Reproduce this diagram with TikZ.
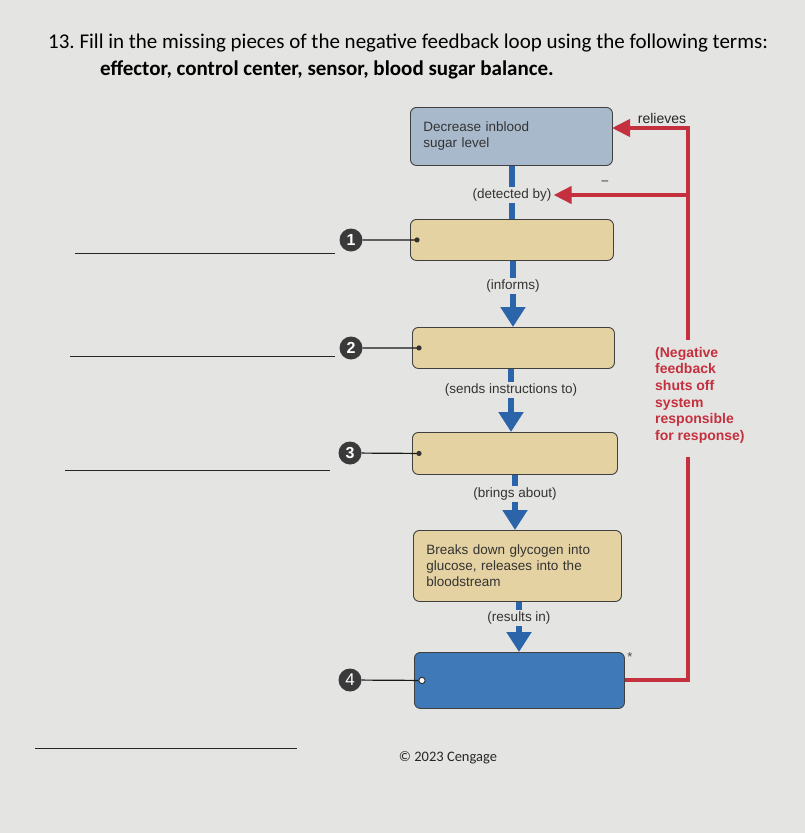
\documentclass[tikz,border=0pt]{standalone}
\usepackage{fontspec}
\setmainfont{Liberation Sans}
\newfontfamily\headfont{Carlito}
\usepackage{xcolor}
\usetikzlibrary{arrows.meta,positioning}

\definecolor{paper}{HTML}{E4E4E2}
\definecolor{greybox}{HTML}{A8B9CB}
\definecolor{tanbox}{HTML}{E5D2A2}
\definecolor{bluebox}{HTML}{4079B8}
\definecolor{flowblue}{HTML}{2C64AA}
\definecolor{loopred}{HTML}{C5303E}
\definecolor{numgrey}{HTML}{3A3A3A}

\begin{document}
\frenchspacing
\begin{tikzpicture}[x=1pt,y=-1pt,
    box/.style={draw=black!75, line width=0.9pt, rounded corners=6pt,
                anchor=north west, inner xsep=13pt, inner ysep=0pt,
                align=left, text=black!80,
                font=\fontsize{13.5}{16}\selectfont},
    word/.style={inner sep=2pt, text=black!80, font=\fontsize{13.5}{16}\selectfont},
    link/.style={draw=flowblue, line width=5.5pt},
    tip/.style={-{Triangle[width=24pt,length=20pt]}},
    num/.style={circle, fill=numgrey, text=white, inner sep=0pt,
                minimum size=23pt, font=\fontsize{16}{16}\bfseries\selectfont},
    pin/.style={draw=black!90, line width=1.2pt},
    blank/.style={draw=black!85, line width=0.8pt},
    fb/.style={draw=loopred, line width=4pt},
    fbtip/.style={-{Triangle[width=17pt,length=18pt]}}]

  \useasboundingbox[fill=paper] (0,0) rectangle (805,833);

  % question text
  \node[anchor=base west, inner sep=0pt, font=\headfont\fontsize{21}{24}\selectfont]
    (question) at (48,48) {13. Fill in the missing pieces of the negative feedback loop using the following terms:};
  \node[anchor=base west, inner sep=0pt, font=\headfont\bfseries\fontsize{21}{24}\selectfont]
    (terms) at (100,75) {effector, control center, sensor, blood sugar balance.};

  % boxes
  \node[box, fill=greybox, text width=176pt, minimum height=58pt] (stimulus) at (410,107)
    {Decrease inblood\\sugar level};
  \node[box, fill=tanbox, minimum width=203pt, minimum height=41pt] (sensor) at (410,219) {};
  \node[box, fill=tanbox, minimum width=202pt, minimum height=41pt] (control) at (412,327) {};
  \node[box, fill=tanbox, minimum width=205pt, minimum height=42pt] (effector) at (412,432) {};
  \node[box, fill=tanbox, text width=182pt, minimum height=71pt] (response) at (413,530)
    {Breaks down glycogen into\\glucose, releases into the\\bloodstream};
  \node[box, fill=bluebox, minimum width=210pt, minimum height=56pt] (balance) at (414,652) {};

  % link words
  \node[word] (detect) at (512,195) {(detected by)};
  \node[word] (informs) at (513,286) {(informs)};
  \node[word] (sends) at (511,390) {(sends instructions to)};
  \node[word] (brings) at (515,494) {(brings about)};
  \node[word] (results) at (519,618) {(results in)};

  % blue flow
  \draw[link] (stimulus.south -| detect) -- (detect);
  \draw[link] (detect) -- (detect |- sensor.north);
  \draw[link] (sensor.south -| informs) -- (informs);
  \draw[link, tip] (informs) -- (informs |- control.north);
  \draw[link] (control.south -| sends) -- (sends);
  \draw[link, tip] (sends) -- (sends |- effector.north);
  \draw[link] (effector.south -| brings) -- (brings);
  \draw[link, tip] (brings) -- (brings |- response.north);
  \draw[link] (response.south -| results) -- (results);
  \draw[link, tip] (results) -- (results |- balance.north);

  % numbered pins
  \node[num] (n1) at (351,240) {1};
  \node[num] (n2) at (351,348) {2};
  \node[num] (n3) at (350,453) {3};
  \node[num, font=\fontsize{17}{17}\selectfont] (n4) at (350,680) {4};
  \coordinate (d1) at ([xshift=7]sensor.west);
  \coordinate (d2) at ([xshift=7]control.west);
  \coordinate (d3) at ([xshift=7]effector.west);
  \coordinate (d4) at ([xshift=8]balance.west);
  \draw[pin] (n1) -- (d1);
  \draw[pin] (n2) -- (d2);
  \draw[pin] (n3) -- (d3);
  \draw[pin] (n4) -- (d4);
  \fill[black!80] (d1) circle (2.6);
  \fill[black!80] (d2) circle (2.6);
  \fill[black!80] (d3) circle (2.6);
  \filldraw[fill=white, draw=black!80, line width=1pt] (d4) circle (3.2);

  % answer blanks
  \draw[blank] (75,253) -- (335,253);
  \draw[blank] (70,356) -- (335,356);
  \draw[blank] (65,470) -- (330,470);
  \draw[blank] (35,748) -- (297,748);

  % negative feedback loop
  \coordinate (loopbottom) at (688,680);
  \coordinate (lowerend) at (688,457);
  \coordinate (upperend) at (688,340);
  \coordinate (looptop) at (688,128);
  \coordinate (loopmid) at (688,195);
  \coordinate (hit) at (612,128);
  \draw[fb] (balance.east |- loopbottom) -- (loopbottom) -- (lowerend);
  \draw[fb, fbtip] (upperend) -- (looptop) -- (hit);
  \draw[fb, fbtip] (loopmid) -- (detect.east);
  \node[text=black!85, font=\fontsize{14}{16}\selectfont] (relieves) at (662,118) {relieves};
  \node[text=black!85, font=\fontsize{12}{12}\selectfont] (minus) at (605,183) {--};
  \node[anchor=north west, inner sep=0pt, align=left, text=loopred,
        font=\bfseries\fontsize{14}{16.6}\selectfont] (note) at (655,347)
    {(Negative\\feedback\\shuts off\\system\\responsible\\for response)};
  \node[text=black!70, font=\fontsize{13}{13}\selectfont] (star) at (630,657) {*};

  % credit
  \node[font=\headfont\fontsize{14.5}{16}\selectfont, text=black!85] (credit) at (448,758) {\textcopyright{} 2023 Cengage};
\end{tikzpicture}
\end{document}
